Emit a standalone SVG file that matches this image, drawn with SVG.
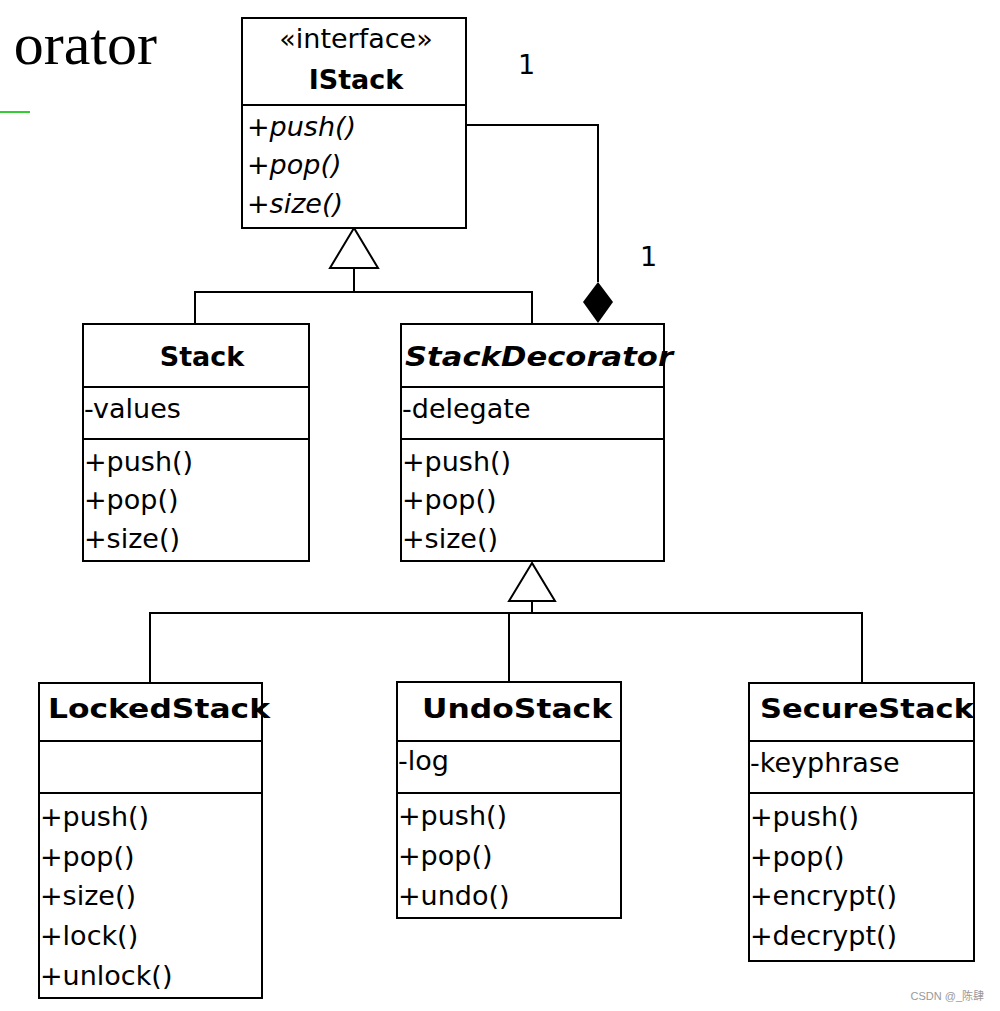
<svg xmlns="http://www.w3.org/2000/svg" width="1000" height="1011" viewBox="0 0 1000 1011">
<style>
.box{fill:#fff;stroke:#000;stroke-width:2}
.ln{stroke:#000;stroke-width:2;fill:none}
.t{font-family:"DejaVu Sans",Verdana,sans-serif;font-size:27px;fill:#000}
.b{font-weight:bold}
.i{font-style:italic}
.m{text-anchor:middle}
</style>
<rect width="1000" height="1011" fill="#fff"/>
<text x="157" y="64" text-anchor="end" style="font-family:'Liberation Serif',serif;font-size:60px">orator</text>
<line x1="0" y1="112" x2="30" y2="112" stroke="#3c3" stroke-width="2"/>
<g id="connectors">
<polygon class="ln" points="354,228 330,268 378,268"/>
<polyline class="ln" points="354,268 354,292"/>
<polyline class="ln" points="195,324 195,292 532,292 532,324"/>
<polyline class="ln" points="466,125 598,125 598,282"/>
<polygon points="598,282 613,302 598,323 583,302" fill="#000"/>
<polygon class="ln" points="532,563 509,601 555,601"/>
<polyline class="ln" points="532,601 532,613"/>
<polyline class="ln" points="150,683 150,613 862,613 862,683"/>
<line class="ln" x1="509" y1="613" x2="509" y2="682"/>
<text class="t" x="518" y="74">1</text>
<text class="t" x="640" y="266">1</text>
</g>
<g id="IStack">
<rect class="box" x="242" y="18" width="224" height="210"/>
<line class="ln" x1="242" y1="105" x2="466" y2="105"/>
<text class="t m" x="356" y="48">«interface»</text>
<text class="t m b" x="356" y="89">IStack</text>
<text class="t i" x="247" y="136">+push()</text>
<text class="t i" x="247" y="174">+pop()</text>
<text class="t i" x="247" y="213">+size()</text>
</g>
<g id="Stack">
<rect class="box" x="83" y="324" width="226" height="237"/>
<line class="ln" x1="83" y1="387" x2="309" y2="387"/>
<line class="ln" x1="83" y1="439" x2="309" y2="439"/>
<text class="t m b" x="202" y="366">Stack</text>
<text class="t" x="84" y="418">-values</text>
<text class="t" x="84" y="471">+push()</text>
<text class="t" x="84" y="509">+pop()</text>
<text class="t" x="84" y="548">+size()</text>
</g>
<g id="StackDecorator">
<rect class="box" x="401" y="324" width="263" height="237"/>
<line class="ln" x1="401" y1="387" x2="664" y2="387"/>
<line class="ln" x1="401" y1="439" x2="664" y2="439"/>
<text class="t b i" x="405" y="366" textLength="268" lengthAdjust="spacingAndGlyphs">StackDecorator</text>
<text class="t" x="402" y="418">-delegate</text>
<text class="t" x="402" y="471">+push()</text>
<text class="t" x="402" y="509">+pop()</text>
<text class="t" x="402" y="548">+size()</text>
</g>
<g id="LockedStack">
<rect class="box" x="39" y="683" width="223" height="315"/>
<line class="ln" x1="39" y1="741" x2="262" y2="741"/>
<line class="ln" x1="39" y1="793" x2="262" y2="793"/>
<text class="t b" x="48" y="718" textLength="222" lengthAdjust="spacingAndGlyphs">LockedStack</text>
<text class="t" x="40" y="826">+push()</text>
<text class="t" x="40" y="866">+pop()</text>
<text class="t" x="40" y="905">+size()</text>
<text class="t" x="40" y="945">+lock()</text>
<text class="t" x="40" y="985">+unlock()</text>
</g>
<g id="UndoStack">
<rect class="box" x="397" y="682" width="224" height="236"/>
<line class="ln" x1="397" y1="741" x2="621" y2="741"/>
<line class="ln" x1="397" y1="793" x2="621" y2="793"/>
<text class="t b" x="422" y="718" textLength="190" lengthAdjust="spacingAndGlyphs">UndoStack</text>
<text class="t" x="398" y="770">-log</text>
<text class="t" x="398" y="825">+push()</text>
<text class="t" x="398" y="865">+pop()</text>
<text class="t" x="398" y="905">+undo()</text>
</g>
<g id="SecureStack">
<rect class="box" x="749" y="683" width="225" height="278"/>
<line class="ln" x1="749" y1="741" x2="974" y2="741"/>
<line class="ln" x1="749" y1="793" x2="974" y2="793"/>
<text class="t b" x="760" y="718" textLength="214" lengthAdjust="spacingAndGlyphs">SecureStack</text>
<text class="t" x="750" y="772">-keyphrase</text>
<text class="t" x="750" y="826">+push()</text>
<text class="t" x="750" y="866">+pop()</text>
<text class="t" x="750" y="905">+encrypt()</text>
<text class="t" x="750" y="945">+decrypt()</text>
</g>
<text x="984" y="1000" text-anchor="end" style="font-family:'Liberation Sans','Noto Sans CJK SC',sans-serif;font-size:11px;fill:#999">CSDN @_陈肆</text>
</svg>
